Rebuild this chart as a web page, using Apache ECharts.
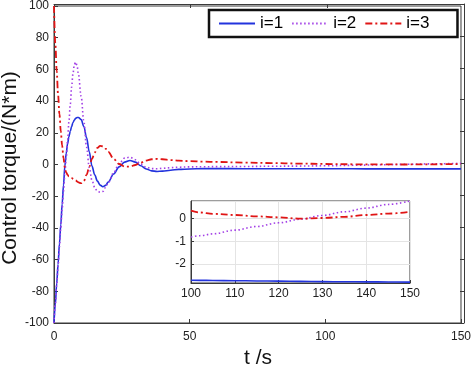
<!DOCTYPE html>
<html>
<head>
<meta charset="utf-8">
<script src="https://cdn.jsdelivr.net/npm/echarts@6/dist/echarts.min.js"></script>
<style>
html,body{margin:0;padding:0;background:#fff;}
#c{width:474px;height:366px;}
</style>
</head>
<body>
<div id="c"></div>
<script>
// ---- data ----
const seriesNames = ['i=1', 'i=2', 'i=3'];
const t = [0,0.5,1,1.5,2,2.5,3,3.5,4,4.5,5,5.5,6,6.5,7,7.5,8,8.5,9,10,11,12,13,14,15,16,17,18,19,20,22,24,26,28,30,32,34,36,38,40,43,46,50,55,60,70,80,90,100,110,120,130,140,150];
const torque1 = [-100,-88,-75,-63,-50,-38,-25,-13,-1,7,13,17.5,21,24,26.5,28,29.2,29.7,29.7,28.3,24,17,8,-1,-6.5,-10.5,-13,-14,-13.2,-11,-6,-1.5,1.5,2.5,1.5,-0.8,-2.8,-4,-4.4,-4.2,-3.6,-3.1,-2.8,-2.6,-2.6,-2.65,-2.68,-2.7,-2.7,-2.72,-2.74,-2.76,-2.77,-2.78];
const torque2 = [-100,-88,-76,-64,-52,-40,-28,-17,-6,4,15,27,38,49,57.5,63,64.6,62.5,57,43,27,11,-2,-10,-14.5,-17,-17.5,-17,-14.5,-11.5,-5,0.5,4,4.6,3,0.3,-1.7,-2.6,-2.7,-2.4,-2,-1.7,-1.5,-1.4,-1.35,-1.25,-1.1,-1,-0.82,-0.52,-0.2,0.12,0.44,0.75];
const torque3 = [100,76,59,44,32,21,12,4,-2,-5,-6.5,-7.5,-8,-8.5,-9,-9.5,-10,-10.7,-11.3,-11.8,-10.5,-6.5,-1.5,3.5,7.5,10.5,11.8,11.5,10,8,3.5,0.3,-1.3,-1.3,-0.3,1.2,2.5,3.3,3.5,3.3,2.8,2.4,2.1,1.8,1.6,1.2,0.9,0.6,0.33,0.14,0.04,0.01,0.14,0.28];
// inset (zoom 100..150 s)
const tIn = [100,102,105,110,115,120,125,130,135,140,145,150];
const inset1 = [-2.7,-2.705,-2.71,-2.72,-2.73,-2.74,-2.75,-2.76,-2.765,-2.77,-2.775,-2.78];
const inset2 = [-0.82,-0.76,-0.68,-0.52,-0.36,-0.2,-0.04,0.12,0.28,0.44,0.6,0.75];
const inset3 = [0.33,0.25,0.19,0.14,0.08,0.04,-0.02,0.01,0.06,0.14,0.2,0.28];

const pairs = (xs, ys) => xs.map((x, i) => [x, ys[i]]);
const colors = ['#2233dd', '#a23fe6', '#e01515'];
const lineTypes = ['solid', [1.5, 2.5], [7, 3, 2, 3]];
const widths = [1.6, 1.6, 1.8];
const font = 'Liberation Sans, Arial, sans-serif';
const axisCol = '#3a3a3a';

const chart = echarts.init(document.getElementById('c'), null, {renderer: 'canvas'});

function mkLine(name, data, i, xi, yi, z) {
  return {
    name: name, type: 'line', data: data, xAxisIndex: xi, yAxisIndex: yi,
    showSymbol: false, symbol: 'none', smooth: 0.35, smoothMonotone: 'x',
    lineStyle: {color: colors[i], width: widths[i], type: lineTypes[i]},
    itemStyle: {color: colors[i]}, z: z, animation: false, clip: true
  };
}

const mainY = [torque1, torque2, torque3];
const insetY = [inset1, inset2, inset3];
const series = [];
for (let i = 0; i < 3; i++) series.push(mkLine(seriesNames[i], pairs(t, mainY[i]), i, 0, 0, 2));
for (let i = 0; i < 3; i++) series.push(mkLine('inset ' + seriesNames[i], pairs(tIn, insetY[i]), i, 2, 2, 12));

const tickLabel = {fontFamily: font, fontSize: 12, color: '#222'};
const axLine = {show: true, onZero: false, lineStyle: {color: axisCol}};

chart.setOption({
  animation: false,
  backgroundColor: '#fff',
  grid: [
    {left: 54, right: 10, top: 4, bottom: 43, show: true, backgroundColor: '#fff', borderColor: axisCol, borderWidth: 1, z: 0},
    {left: 54, right: 10, top: 4, bottom: 43, show: false},
    {left: 191, top: 201, width: 219, height: 82, show: true, backgroundColor: '#fff', borderColor: axisCol, borderWidth: 1, z: 10}
  ],
  xAxis: [
    {type: 'value', gridIndex: 0, min: 0, max: 150, interval: 50, position: 'bottom',
     axisLine: axLine, axisTick: {show: true, inside: true, length: 4, lineStyle: {color: axisCol}},
     axisLabel: Object.assign({margin: 8}, tickLabel), splitLine: {show: false}},
    {type: 'value', gridIndex: 1, min: 0, max: 150, interval: 50, position: 'top',
     axisLine: axLine, axisTick: {show: true, inside: true, length: 4, lineStyle: {color: axisCol}},
     axisLabel: {show: false}, splitLine: {show: false}},
    {type: 'value', gridIndex: 2, min: 100, max: 150, interval: 10, position: 'bottom', z: 12,
     axisLine: axLine, axisTick: {show: true, inside: true, length: 3, lineStyle: {color: axisCol}},
     axisLabel: Object.assign({margin: 5}, tickLabel), splitLine: {show: true, lineStyle: {color: '#e4e4e4', width: 1}}}
  ],
  yAxis: [
    {type: 'value', gridIndex: 0, min: -100, max: 100, interval: 20, position: 'left',
     axisLine: axLine, axisTick: {show: true, inside: true, length: 4, lineStyle: {color: axisCol}},
     axisLabel: Object.assign({margin: 5}, tickLabel), splitLine: {show: false}},
    {type: 'value', gridIndex: 1, min: -100, max: 100, interval: 20, position: 'right',
     axisLine: axLine, axisTick: {show: true, inside: true, length: 4, lineStyle: {color: axisCol}},
     axisLabel: {show: false}, splitLine: {show: false}},
    {type: 'value', gridIndex: 2, min: -2.82, max: 0.75, splitNumber: 3, position: 'left', z: 12,
     axisLine: axLine, axisTick: {show: true, inside: true, length: 3, lineStyle: {color: axisCol}},
     axisLabel: Object.assign({margin: 5, showMinLabel: false, showMaxLabel: false,
       formatter: v => (Math.abs(v - Math.round(v)) < 1e-6 ? String(Math.round(v)) : '')}, tickLabel),
     splitLine: {show: true, lineStyle: {color: '#e4e4e4', width: 1}}}
  ],
  legend: {
    data: seriesNames, left: 209, top: 10, orient: 'horizontal',
    padding: [5, 28, 5, 9], itemWidth: 36, itemHeight: 14, itemGap: 8,
    borderColor: '#111', borderWidth: 2.5, backgroundColor: '#fff',
    itemStyle: {opacity: 0},
    textStyle: {fontFamily: font, fontSize: 17, color: '#000'}, z: 20
  },
  graphic: [
    {type: 'text', x: 10, y: 168, rotation: Math.PI / 2, z: 30,
     style: {text: 'Control torque/(N*m)', fontFamily: font, fontSize: 21, fill: '#111', align: 'center', verticalAlign: 'middle'}},
    {type: 'text', x: 258, y: 348, z: 30,
     style: {text: 't /s', fontFamily: font, fontSize: 21, fill: '#111', align: 'center', verticalAlign: 'top'}}
  ],
  series: series
});
</script>
</body>
</html>
